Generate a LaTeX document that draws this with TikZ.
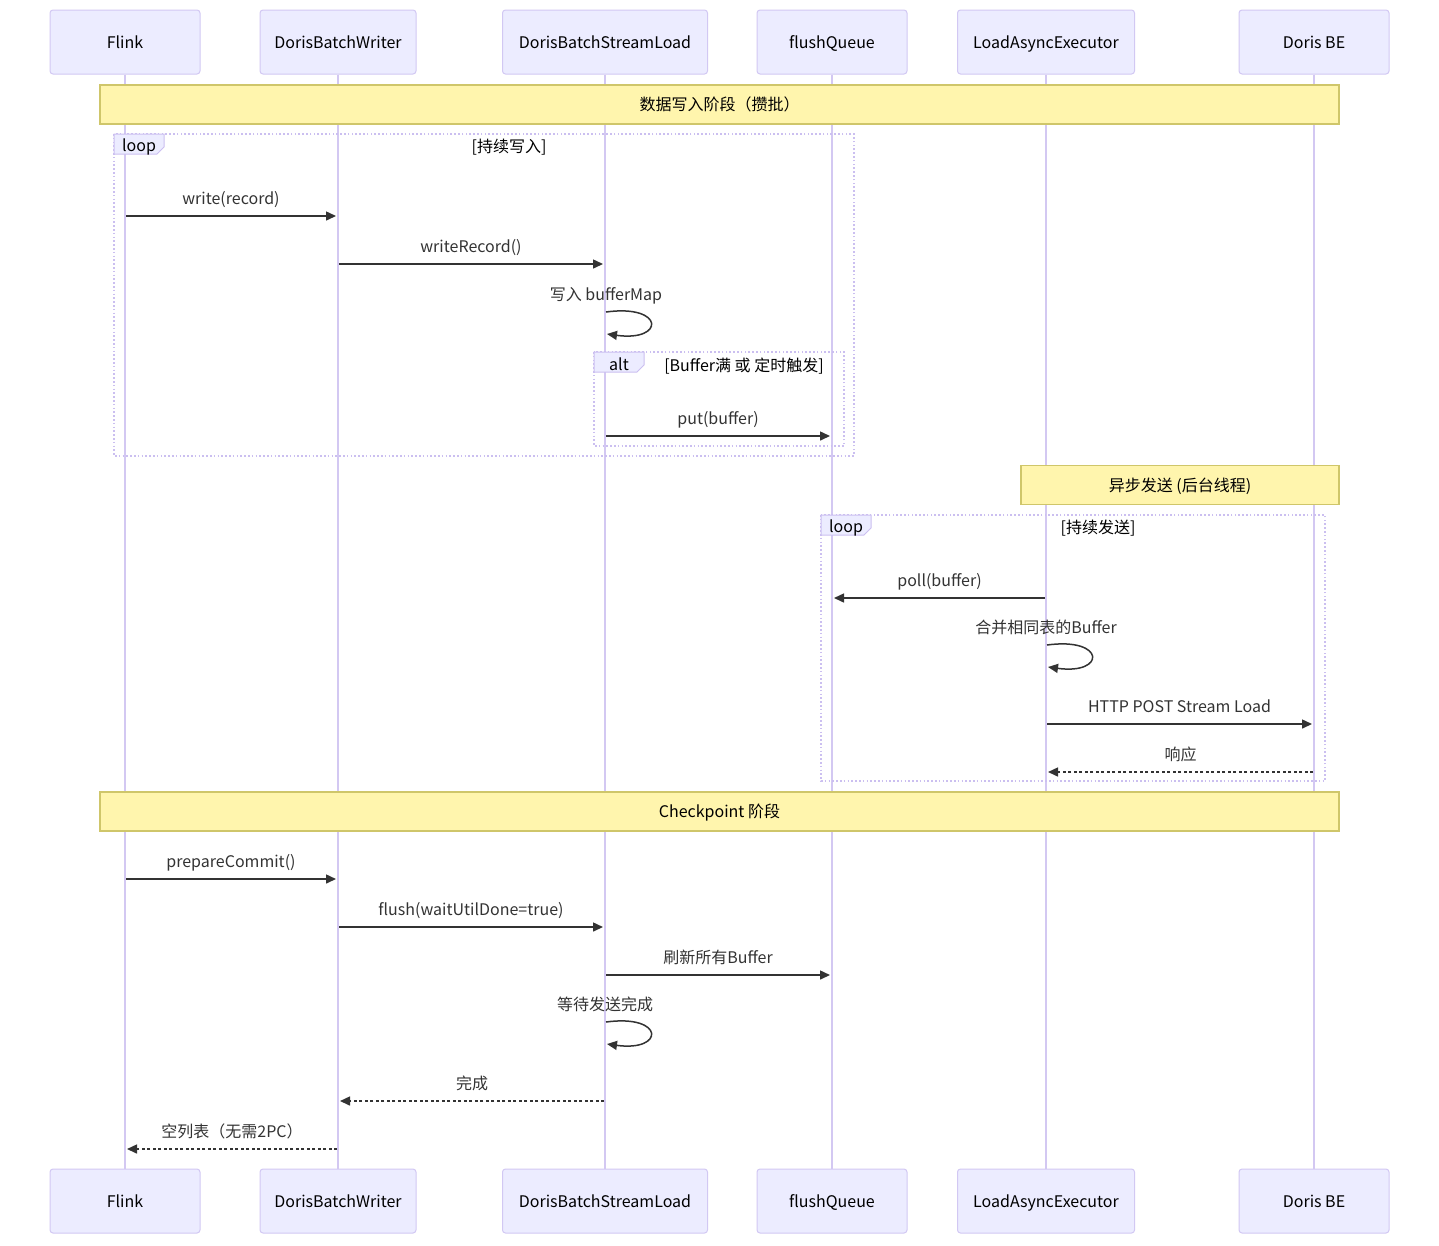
\documentclass[tikz,border=0pt]{standalone}
\usepackage{fontspec}
\setmainfont{Noto Sans CJK SC}
\usetikzlibrary{arrows.meta}
\definecolor{actorfill}{HTML}{ECECFF}
\definecolor{actorborder}{HTML}{D2C8F3}
\definecolor{lifecol}{HTML}{D3C8F2}
\definecolor{notefill}{HTML}{FFF5AD}
\definecolor{noteborder}{HTML}{CFC66A}
\definecolor{msgcol}{HTML}{333333}
\definecolor{framecol}{HTML}{CBBFF0}
\tikzset{
  tx/.style={text height=14pt, text depth=2pt},
  actor/.style={draw=actorborder, line width=1pt, fill=actorfill, rounded corners=3pt,
    minimum height=64pt, inner sep=0pt, text=black, tx},
  lifeline/.style={draw=lifecol, line width=1.6pt},
  notebox/.style={draw=noteborder, line width=1.3pt, fill=notefill, inner sep=0pt,
    minimum height=39pt, text=black, tx},
  frameline/.style={draw=framecol, line width=1.4pt, dash pattern=on 1.6pt off 2.2pt},
  framelab/.style={draw=framecol, line width=1pt, fill=actorfill},
  msgarrow/.style={draw=msgcol, line width=1.5pt, -{Triangle[length=10pt,width=9pt]}},
  msgdotted/.style={msgarrow, dash pattern=on 3pt off 2.5pt},
  msglabel/.style={midway, yshift=18pt, text=msgcol, inner sep=0pt, tx},
  selflabel/.style={text=msgcol, inner sep=0pt, tx},
  txt/.style={inner sep=0pt, text=black, tx}
}
\begin{document}
\begin{tikzpicture}[x=1pt,y=-1pt,font=\fontsize{16}{19}\selectfont]
\useasboundingbox (0,0) rectangle (1439,1245);
\fill[white] (0,0) rectangle (1439,1245);

% actors
\foreach \n/\x/\w/\t in {flink/125/150/Flink, dbw/338/156/DorisBatchWriter,
    dbsl/605/205/DorisBatchStreamLoad, fq/832/150/flushQueue,
    lae/1046/177/LoadAsyncExecutor, be/1314/150/Doris BE}{
  \node[actor, minimum width=\w pt] (\n T) at (\x,42) {\t};
  \node[actor, minimum width=\w pt] (\n B) at (\x,1201) {\t};
}
\foreach \n in {flink,dbw,dbsl,fq,lae,be}{
  \draw[lifeline] (\n T.south) -- (\n B.north);
}

% notes
\node[notebox, minimum width=1239pt] (note1) at (719.5,104.5) {数据写入阶段（攒批）};
\node[notebox, minimum width=318pt] (note2) at (1180,485) {异步发送 (后台线程)};
\node[notebox, minimum width=1239pt] (note3) at (719.5,811.5) {Checkpoint 阶段};

% loop frame 1
\draw[frameline] (114,134) rectangle (854,456);
\draw[framelab] (114,134) -- (164,134) -- (164,147) -- (157,154) -- (114,154) -- cycle;
\node[txt] (loop1) at (139,145) {loop};
\node[txt] (cond1) at (509,146) {[持续写入]};

% alt frame
\draw[frameline] (594,352) rectangle (844,446);
\draw[framelab] (594,352) -- (644,352) -- (644,365) -- (637,372) -- (594,372) -- cycle;
\node[txt] (alt1) at (619,364) {alt};
\node[txt] (cond2) at (744,365) {[Buffer满 或 定时触发]};

% loop frame 2
\draw[frameline] (821,515) rectangle (1325,781);
\draw[framelab] (821,515) -- (871,515) -- (871,528) -- (864,535) -- (821,535) -- cycle;
\node[txt] (loop2) at (846,526) {loop};
\node[txt] (cond3) at (1098,527) {[持续发送]};

% message end points
\coordinate (m1a) at (126,216);  \coordinate (m1b) at (336,216);
\coordinate (m2a) at (339,264);  \coordinate (m2b) at (603,264);
\coordinate (s1a) at (606,312);  \coordinate (s1b) at (607,334);
\coordinate (m3a) at (606,436);  \coordinate (m3b) at (830,436);
\coordinate (m4a) at (1045,598); \coordinate (m4b) at (834,598);
\coordinate (s2a) at (1047,645); \coordinate (s2b) at (1048,667);
\coordinate (m5a) at (1047,724); \coordinate (m5b) at (1312,724);
\coordinate (m6a) at (1313,772); \coordinate (m6b) at (1048,772);
\coordinate (m7a) at (126,879);  \coordinate (m7b) at (336,879);
\coordinate (m8a) at (339,927);  \coordinate (m8b) at (603,927);
\coordinate (m9a) at (606,975);  \coordinate (m9b) at (830,975);
\coordinate (s3a) at (606,1022); \coordinate (s3b) at (607,1044);
\coordinate (m10a) at (604,1101); \coordinate (m10b) at (340,1101);
\coordinate (m11a) at (337,1149); \coordinate (m11b) at (127,1149);

% messages
\draw[msgarrow] (m1a) -- node[msglabel] (l1) {write(record)} (m1b);
\draw[msgarrow] (m2a) -- node[msglabel] (l2) {writeRecord()} (m2b);
\node[selflabel] (ls1) at (606,294) {写入 bufferMap};
\draw[msgarrow] (s1a) .. controls (665,304) and (665,342) .. (s1b);
\draw[msgarrow] (m3a) -- node[msglabel] (l3) {put(buffer)} (m3b);
\draw[msgarrow] (m4a) -- node[msglabel] (l4) {poll(buffer)} (m4b);
\node[selflabel] (ls2) at (1046,627) {合并相同表的Buffer};
\draw[msgarrow] (s2a) .. controls (1106,637) and (1106,675) .. (s2b);
\draw[msgarrow] (m5a) -- node[msglabel] (l5) {HTTP POST Stream Load} (m5b);
\draw[msgdotted] (m6a) -- node[msglabel] (l6) {响应} (m6b);
\draw[msgarrow] (m7a) -- node[msglabel] (l7) {prepareCommit()} (m7b);
\draw[msgarrow] (m8a) -- node[msglabel] (l8) {flush(waitUtilDone=true)} (m8b);
\draw[msgarrow] (m9a) -- node[msglabel] (l9) {刷新所有Buffer} (m9b);
\node[selflabel] (ls3) at (605,1004) {等待发送完成};
\draw[msgarrow] (s3a) .. controls (665,1014) and (665,1052) .. (s3b);
\draw[msgdotted] (m10a) -- node[msglabel] (l10) {完成} (m10b);
\draw[msgdotted] (m11a) -- node[msglabel] (l11) {空列表（无需2PC）} (m11b);
\end{tikzpicture}
\end{document}
